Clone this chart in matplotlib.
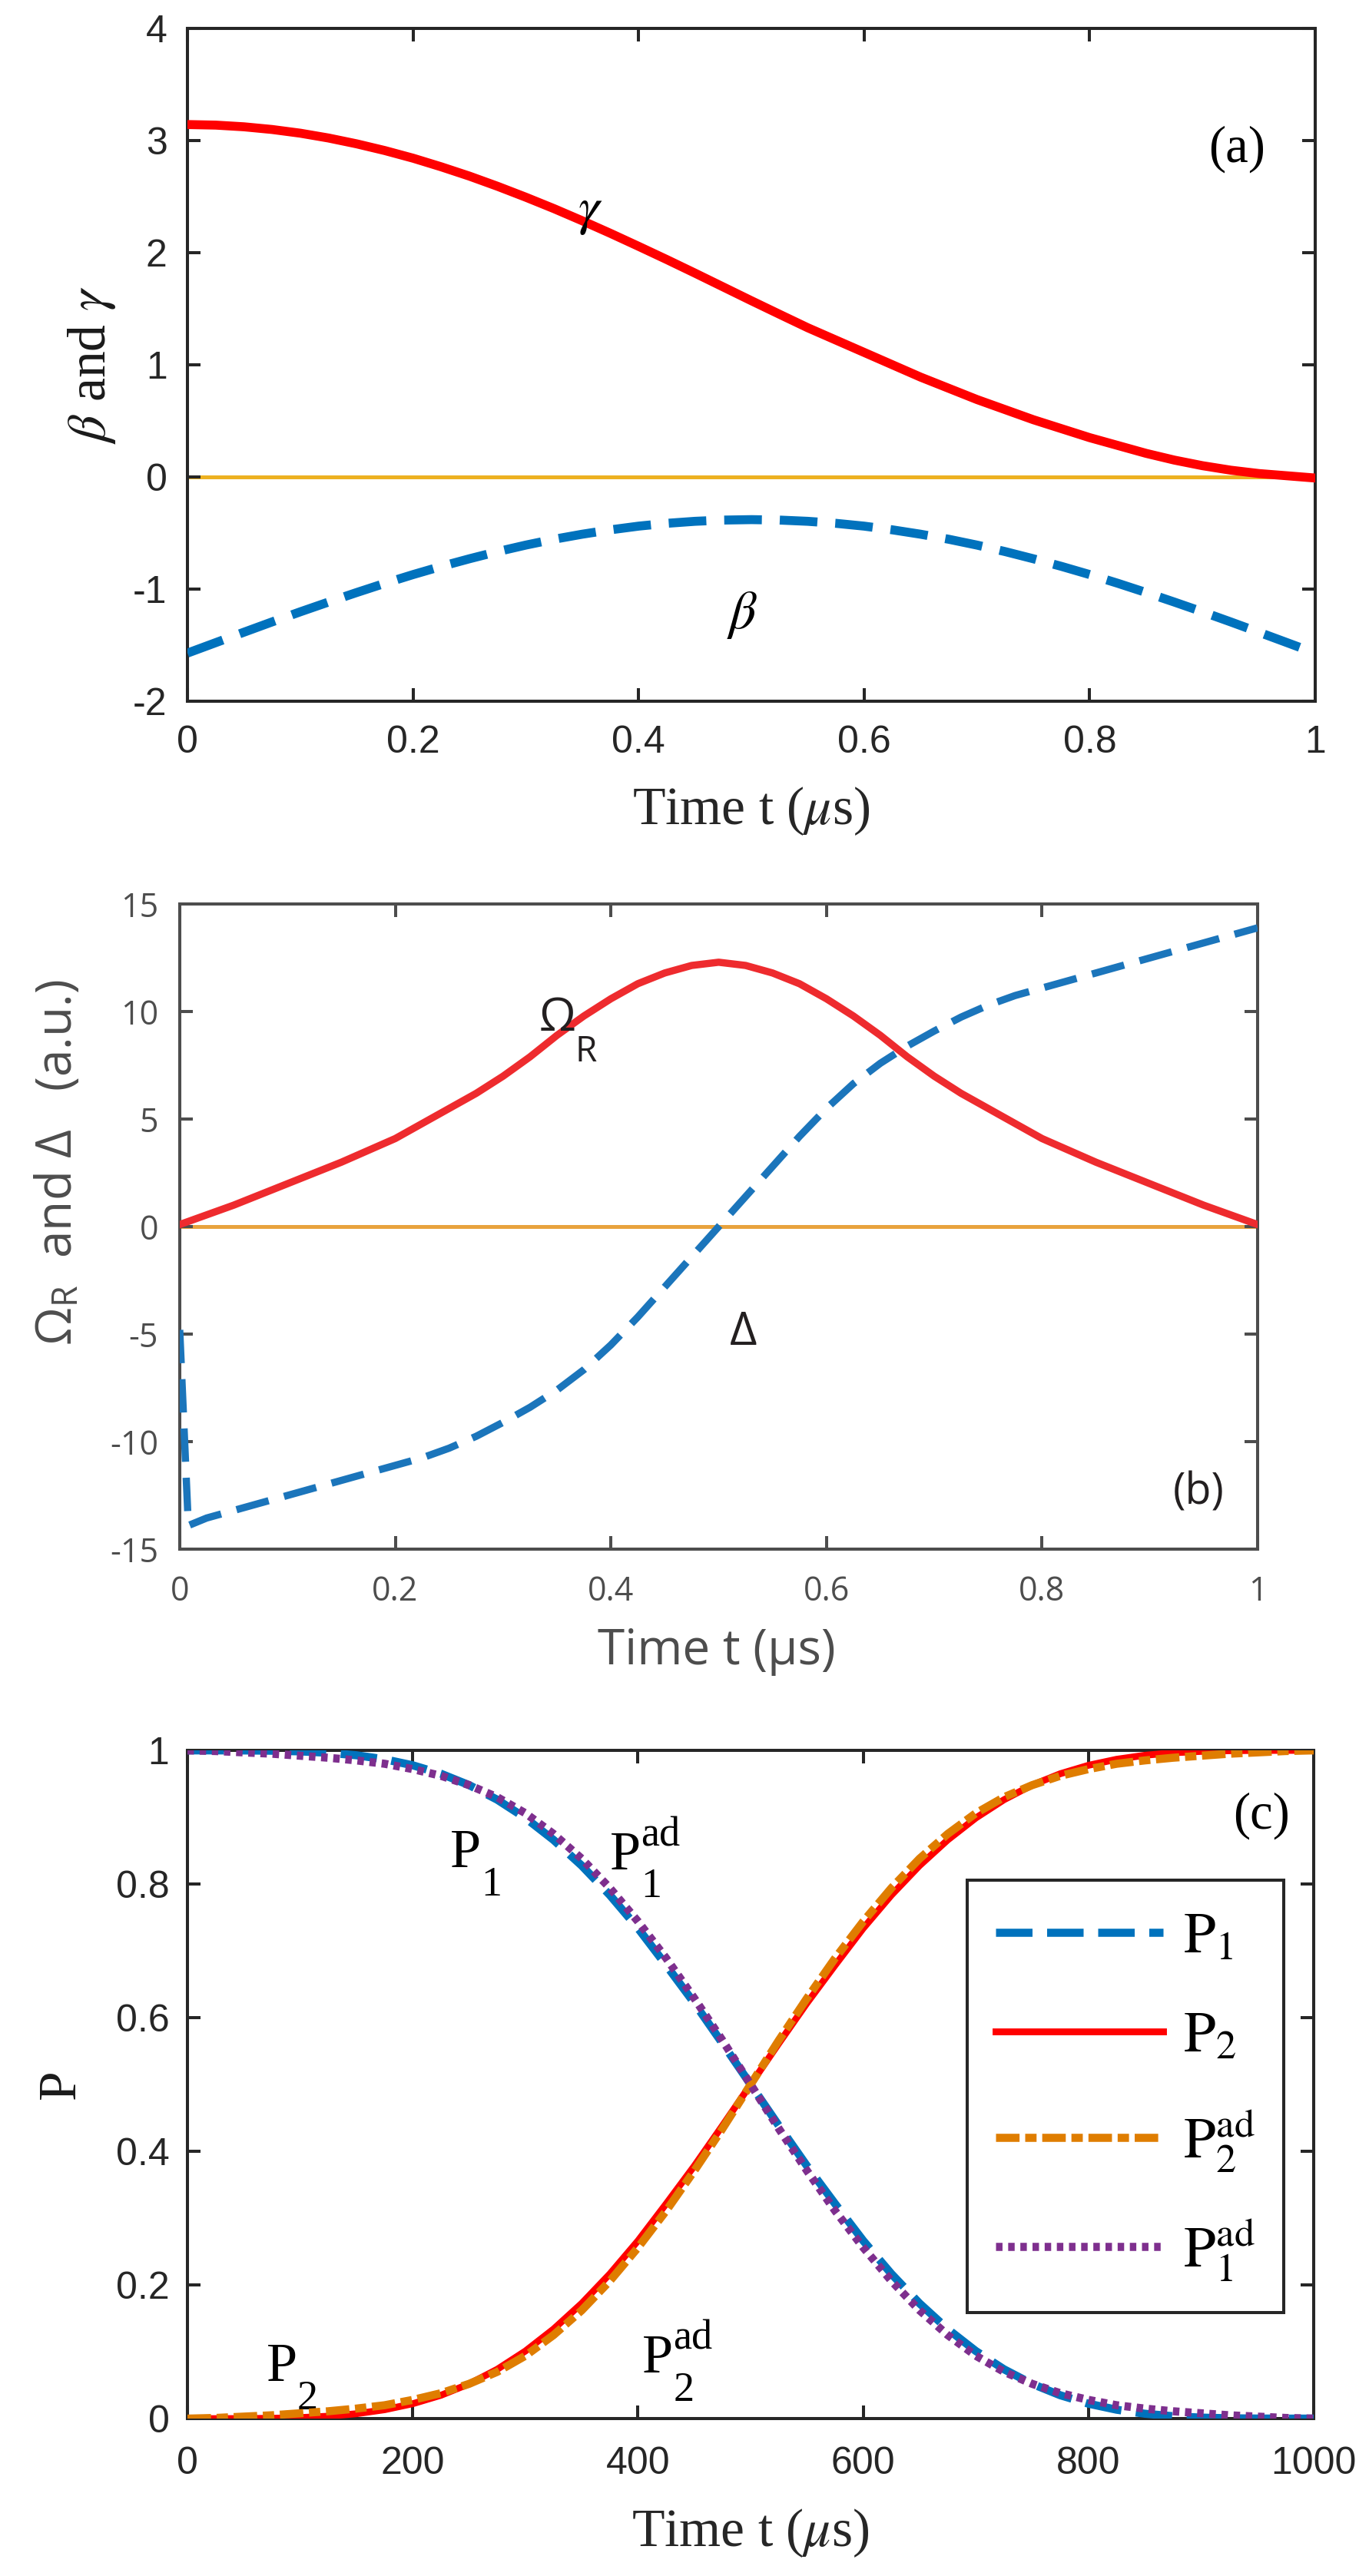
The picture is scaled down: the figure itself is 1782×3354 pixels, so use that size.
import numpy as np
import matplotlib.pyplot as plt

plt.rcParams['mathtext.fontset'] = 'stix'
plt.rcParams['axes.unicode_minus'] = False

# ---- panel (a): beta and gamma vs time (us)
t_a = [0, 0.025, 0.05, 0.075, 0.1, 0.125, 0.15, 0.175, 0.2, 0.225, 0.25,
       0.275, 0.3, 0.325, 0.35, 0.375, 0.4, 0.425, 0.45, 0.475, 0.5,
       0.525, 0.55, 0.575, 0.6, 0.625, 0.65, 0.675, 0.7, 0.725, 0.75,
       0.775, 0.8, 0.825, 0.85, 0.875, 0.9, 0.925, 0.95, 0.975, 1.0]
gamma = [3.142, 3.137, 3.122, 3.098, 3.065, 3.022, 2.970, 2.910, 2.842, 2.765, 2.682,
         2.591, 2.494, 2.392, 2.284, 2.172, 2.056, 1.938, 1.817, 1.694, 1.571,
         1.45, 1.33, 1.22, 1.11, 1.00, 0.89, 0.79, 0.69, 0.60, 0.51,
         0.43, 0.35, 0.28, 0.21, 0.15, 0.10, 0.06, 0.03, 0.01, -0.01]
beta = [-1.571, -1.478, -1.385, -1.293, -1.203, -1.116, -1.031, -0.949, -0.871, -0.798, -0.730,
        -0.666, -0.608, -0.556, -0.511, -0.472, -0.439, -0.414, -0.396, -0.385, -0.381,
        -0.385, -0.396, -0.414, -0.439, -0.472, -0.511, -0.556, -0.608, -0.666, -0.730,
        -0.798, -0.871, -0.949, -1.031, -1.116, -1.203, -1.293, -1.385, -1.478, -1.571]
a_xticks = [0, 0.2, 0.4, 0.6, 0.8, 1]
a_xlabels = ['0', '0.2', '0.4', '0.6', '0.8', '1']
a_yticks = [-2, -1, 0, 1, 2, 3, 4]

# ---- panel (b): Omega_R and Delta
t_om = t_a
omega_r = [0.1, 0.55, 1.0, 1.5, 2.0, 2.5, 3.0, 3.55, 4.1, 4.8, 5.5,
           6.2, 7.0, 7.9, 8.9, 9.8, 10.6, 11.3, 11.8, 12.15, 12.3,
           12.15, 11.8, 11.3, 10.6, 9.8, 8.9, 7.9, 7.0, 6.2, 5.5,
           4.8, 4.1, 3.55, 3.0, 2.5, 2.0, 1.5, 1.0, 0.55, 0.1]
t_delta = [0, 0.008, 0.025, 0.05, 0.075, 0.1, 0.125, 0.15, 0.175, 0.2, 0.225, 0.25,
           0.275, 0.3, 0.325, 0.35, 0.375, 0.4, 0.425, 0.45, 0.475, 0.5,
           0.525, 0.55, 0.575, 0.6, 0.625, 0.65, 0.675, 0.7, 0.725, 0.75,
           0.775, 0.8, 0.825, 0.85, 0.875, 0.9, 0.925, 0.95, 0.975, 1.0]
delta = [-4.8, -13.9, -13.55, -13.2, -12.85, -12.5, -12.15, -11.8, -11.45, -11.1, -10.75, -10.3,
         -9.75, -9.1, -8.4, -7.6, -6.65, -5.5, -4.2, -2.8, -1.4, 0.0,
         1.4, 2.8, 4.2, 5.5, 6.65, 7.6, 8.4, 9.1, 9.75, 10.3,
         10.75, 11.1, 11.45, 11.8, 12.15, 12.5, 12.85, 13.2, 13.55, 13.9]
b_yticks = [-15, -10, -5, 0, 5, 10, 15]

# ---- panel (c): populations vs time (us)
t_c = [0, 25, 50, 75, 100, 125, 150, 175, 200, 225, 250,
       275, 300, 325, 350, 375, 400, 425, 450, 475, 500,
       525, 550, 575, 600, 625, 650, 675, 700, 725, 750,
       775, 800, 825, 850, 875, 900, 925, 950, 975, 1000]
p1 = [1.0, 1.0, 0.9999, 0.9995, 0.9985, 0.9964, 0.9927, 0.9867, 0.9777, 0.9651, 0.9481,
      0.9262, 0.8989, 0.866, 0.8276, 0.7834, 0.7338, 0.6785, 0.6218, 0.5615, 0.5,
      0.4385, 0.3782, 0.3215, 0.2662, 0.2166, 0.1724, 0.134, 0.1011, 0.0738, 0.0519,
      0.0349, 0.0223, 0.0133, 0.0073, 0.0036, 0.0015, 0.0005, 0.0001, 0.0, 0.0]
p2 = [0.0, 0.0, 0.0001, 0.0005, 0.0015, 0.0036, 0.0073, 0.0133, 0.0223, 0.0349, 0.0519,
      0.0738, 0.1011, 0.134, 0.1724, 0.2166, 0.2662, 0.3215, 0.3782, 0.4385, 0.5,
      0.5615, 0.6218, 0.6785, 0.7338, 0.7834, 0.8276, 0.866, 0.8989, 0.9262, 0.9481,
      0.9651, 0.9777, 0.9867, 0.9927, 0.9964, 0.9985, 0.9995, 0.9999, 1.0, 1.0]
p2_ad = [0.0, 0.001, 0.003, 0.005, 0.008, 0.011, 0.015, 0.02, 0.028, 0.038, 0.052,
         0.07, 0.094, 0.125, 0.162, 0.206, 0.256, 0.311, 0.371, 0.434, 0.5,
         0.566, 0.629, 0.689, 0.744, 0.794, 0.838, 0.875, 0.906, 0.93, 0.948,
         0.962, 0.972, 0.98, 0.985, 0.989, 0.992, 0.995, 0.997, 0.999, 1.0]
p1_ad = [1.0, 0.999, 0.997, 0.995, 0.992, 0.989, 0.985, 0.98, 0.972, 0.962, 0.948,
         0.93, 0.906, 0.875, 0.838, 0.794, 0.744, 0.689, 0.629, 0.566, 0.5,
         0.434, 0.371, 0.311, 0.256, 0.206, 0.162, 0.125, 0.094, 0.07, 0.052,
         0.038, 0.028, 0.02, 0.015, 0.011, 0.008, 0.005, 0.003, 0.001, 0.0]
c_xticks = [0, 200, 400, 600, 800, 1000]
c_yticks = [0, 0.2, 0.4, 0.6, 0.8, 1]
c_ylabels = ['0', '0.2', '0.4', '0.6', '0.8', '1']

DARK = '#262626'
GREY = '#4d4d4d'
SERIF = 'Liberation Serif'

fig = plt.figure(figsize=(1783 / 200, 3354 / 200), dpi=200)
ax_a = fig.add_axes([0.1369, 0.7278, 0.8233, 0.2612])
ax_b = fig.add_axes([0.1312, 0.3986, 0.7869, 0.2504])
ax_c = fig.add_axes([0.1369, 0.0611, 0.8222, 0.2594])


def style_axes(ax, color, family, size, xpad, ypad):
    for s in ax.spines.values():
        s.set_color(color)
        s.set_linewidth(1.45)
    ax.tick_params(direction='in', length=6, width=1.45, color=color,
                   top=True, right=True, labelsize=size, labelcolor=color)
    ax.tick_params(axis='x', pad=xpad)
    ax.tick_params(axis='y', pad=ypad)
    for lab in ax.get_xticklabels() + ax.get_yticklabels():
        lab.set_family(family)


# label with a large, low subscript and a raised superscript (matlab tex look)
def sub_label(ax, x, y, sub, sup=None, size=26, dx=0.0, sub_dy=0.0, sup_dy=0.0,
              family=SERIF, color='k', base='P'):
    t = ax.text(x, y, base, family=family, fontsize=size, color=color)
    fig.canvas.draw()
    bb = t.get_window_extent()
    x1 = ax.transData.inverted().transform((bb.x1, bb.y0))[0] + dx
    ax.text(x1, y - sub_dy, sub, family=family, fontsize=size * 0.75, color=color)
    if sup:
        ax.text(x1, y + sup_dy, sup, family=family, fontsize=size * 0.75, color=color)


# panel (a)
ax_a.plot(t_a, np.zeros(len(t_a)), color='#EDB120', lw=1.8, zorder=1)
ax_a.plot(t_a, gamma, color='#FF0000', lw=4.2, zorder=3)
ax_a.plot(t_a, beta, color='#0072BD', lw=4.2, ls=(0, (4.2, 2.0)), zorder=3)
ax_a.set_xlim(0, 1)
ax_a.set_ylim(-2, 4)
ax_a.set_xticks(a_xticks)
ax_a.set_xticklabels(a_xlabels)
ax_a.set_yticks(a_yticks)
style_axes(ax_a, DARK, 'Liberation Sans', 18, 11, 9.5)
ax_a.set_xlabel('Time t ($\\mu$s)', family=SERIF, fontsize=25, color=DARK)
ax_a.xaxis.set_label_coords(0.5, -0.125)
ax_a.set_ylabel('$\\beta$ and $\\gamma$', family=SERIF, fontsize=25, color='#1a1a1a')
ax_a.yaxis.set_label_coords(-0.062, 0.5)
ax_a.text(0.346, 2.25, '$\\gamma$', fontsize=25, color='k')
ax_a.text(0.478, -1.35, '$\\beta$', fontsize=25, color='k')
ax_a.text(0.956, 2.81, '(a)', family=SERIF, fontsize=24, ha='right', color='k')

# panel (b)
ax_b.plot(t_om, np.zeros(len(t_om)), color='#E8A33D', lw=1.8, zorder=1)
ax_b.plot(t_om, omega_r, color='#EE2B2E', lw=3.4, zorder=3)
ax_b.plot(t_delta, delta, color='#1B75BB', lw=3.4, ls=(0, (4.6, 2.2)), zorder=3)
ax_b.set_xlim(0, 1)
ax_b.set_ylim(-15, 15)
ax_b.set_xticks(a_xticks)
ax_b.set_xticklabels(a_xlabels)
ax_b.set_yticks(b_yticks)
style_axes(ax_b, GREY, 'Open Sans', 15.5, 12, 10)
ax_b.set_xlabel('Time t (µs)', family='Open Sans', fontsize=23, color=GREY)
ax_b.xaxis.set_label_coords(0.498, -0.12)
ax_b.set_ylabel('Ω$_{\\mathregular{R}}$  and Δ   (a.u.)', family='Open Sans', fontsize=23,
                color=GREY)
ax_b.yaxis.set_label_coords(-0.09, 0.6)
sub_label(ax_b, 0.333, 9.1, 'R', base='Ω', size=22, family='Open Sans',
          color='#231f20', sub_dy=1.4)
ax_b.text(0.51, -5.5, 'Δ', family='Open Sans', fontsize=22, color='#231f20')
ax_b.text(0.969, -12.9, '(b)', family='Open Sans', fontsize=20, ha='right', color='#231f20')

# panel (c)
ax_c.plot(t_c, p1, color='#0072BD', lw=3.8, ls=(0, (4.5, 1.8)), label='$\\mathrm{P}_1$', zorder=3)
ax_c.plot(t_c, p2, color='#FF0000', lw=3.2, label='$\\mathrm{P}_2$', zorder=3)
ax_c.plot(t_c, p2_ad, color='#DF7D00', lw=3.8, ls=(0, (2.9, 0.7, 1.4, 0.7)),
          label='$\\mathrm{P}_2^{\\mathrm{ad}}$', zorder=4)
ax_c.plot(t_c, p1_ad, color='#7E2F8E', lw=3.8, ls=(0, (0.8, 0.7)),
          label='$\\mathrm{P}_1^{\\mathrm{ad}}$', zorder=4)
ax_c.set_xlim(0, 1000)
ax_c.set_ylim(0, 1)
ax_c.set_xticks(c_xticks)
ax_c.set_yticks(c_yticks)
ax_c.set_yticklabels(c_ylabels)
style_axes(ax_c, DARK, 'Liberation Sans', 18, 13, 8.5)
ax_c.set_xlabel('Time t ($\\mu$s)', family=SERIF, fontsize=25, color=DARK)
ax_c.xaxis.set_label_coords(0.5, -0.132)
ax_c.set_ylabel('P', family=SERIF, fontsize=25, color='#1a1a1a')
ax_c.yaxis.set_label_coords(-0.09, 0.5)
sub_label(ax_c, 233, 0.825, '1', sub_dy=0.042)
sub_label(ax_c, 375, 0.822, '1', sup='ad', sub_dy=0.042, sup_dy=0.035)
sub_label(ax_c, 70, 0.056, '2', sub_dy=0.042)
sub_label(ax_c, 404, 0.069, '2', sup='ad', sub_dy=0.042, sup_dy=0.035)
ax_c.text(979, 0.883, '(c)', family=SERIF, fontsize=24, ha='right', color='k')

leg = ax_c.legend(loc='upper left', bbox_to_anchor=(0.692, 0.806), borderaxespad=0,
                  fontsize=27, handlelength=2.9, labelspacing=0.75, borderpad=0.5,
                  handletextpad=0.35, fancybox=False, framealpha=1, edgecolor=DARK)
leg.get_frame().set_linewidth(1.45)

fig.savefig('out.png', dpi=200, facecolor='white')
